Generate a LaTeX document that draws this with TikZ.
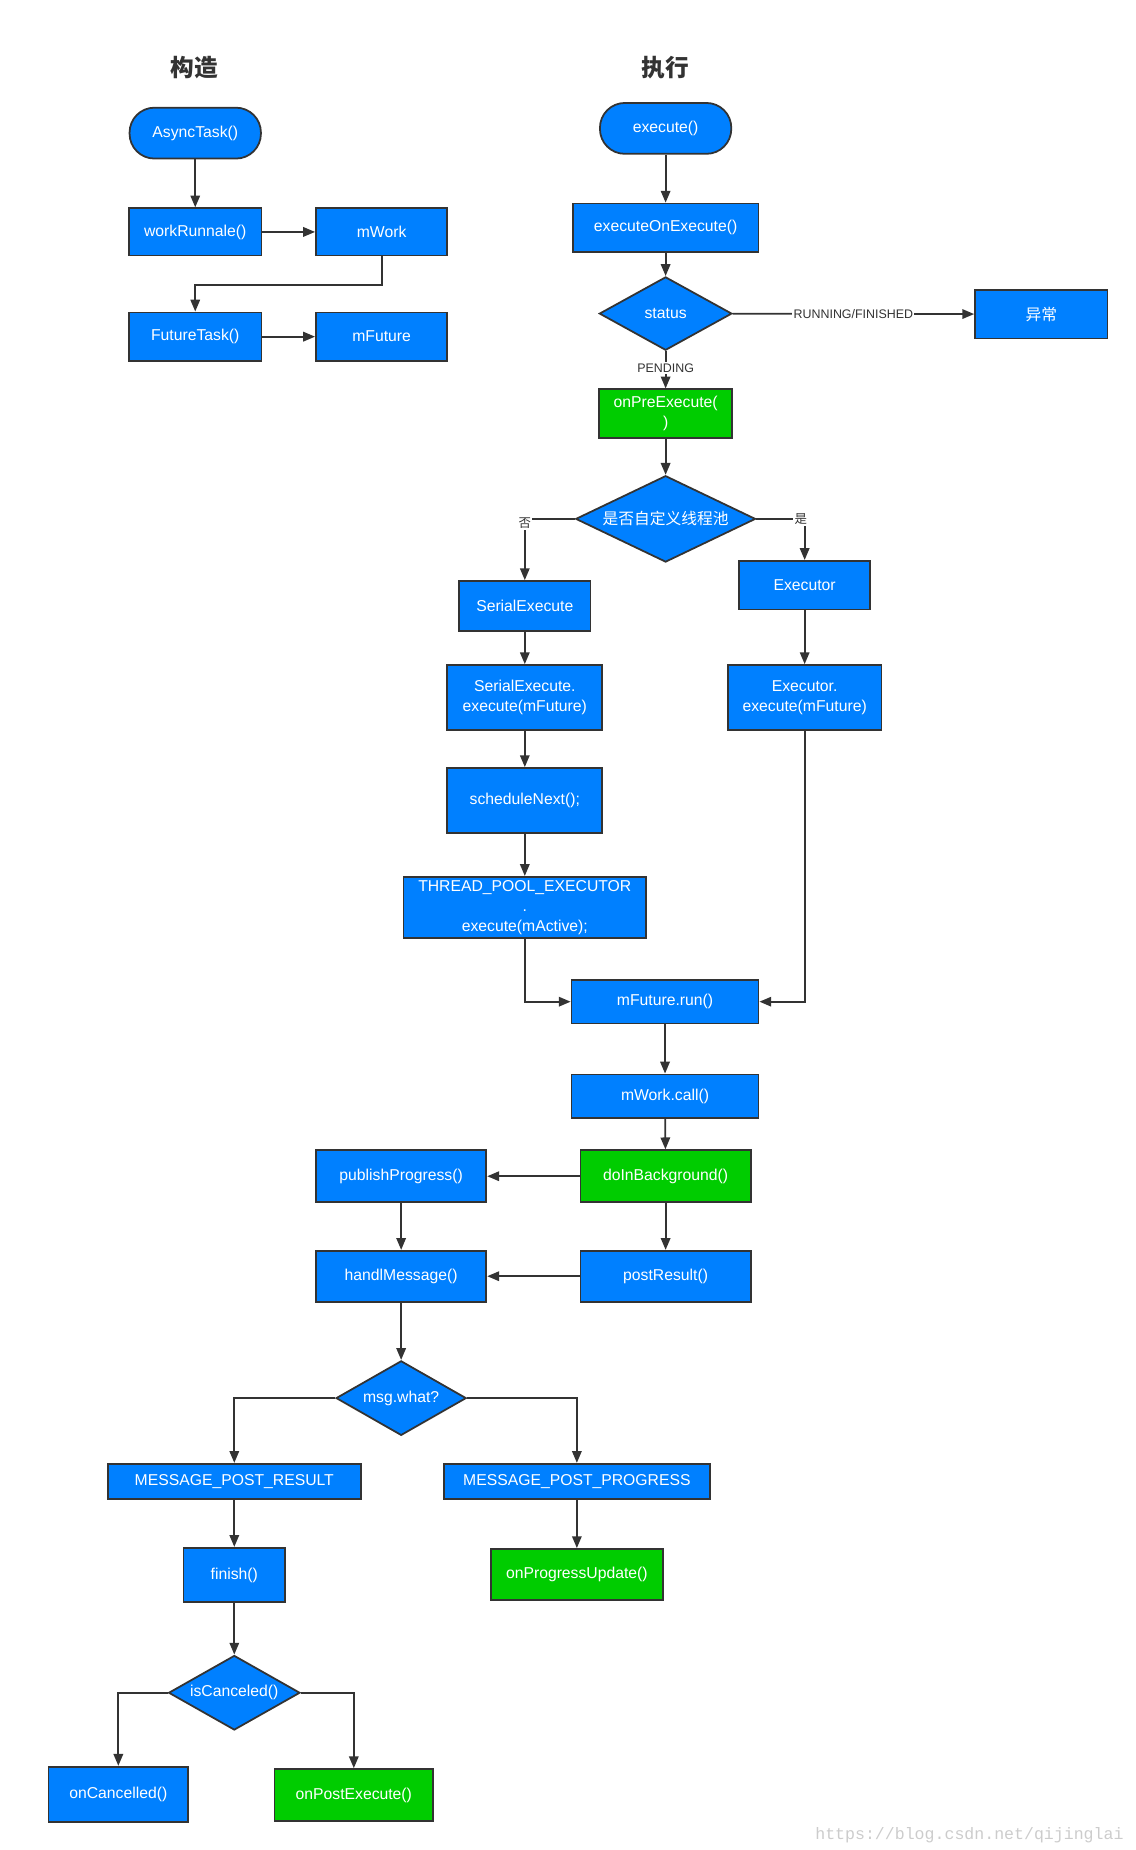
\documentclass[tikz,border=0pt]{standalone}
\usepackage{fontspec}
\setmainfont{Liberation Sans}
\newfontfamily\cjk{Noto Sans CJK SC}
\newfontfamily\wmfont{Liberation Mono}
\usetikzlibrary{shapes.geometric,arrows.meta}
\definecolor{fcblue}{HTML}{0080FF}
\definecolor{fcgreen}{HTML}{00CC00}
\definecolor{bd}{HTML}{333333}
\definecolor{ln}{HTML}{333333}
\tikzset{
  base/.style={draw=bd, line width=1.5pt, text=white, font=\fontsize{13.3}{17}\selectfont, inner sep=0pt, align=center},
  bbox/.style={base, rectangle, fill=fcblue},
  gbox/.style={base, rectangle, fill=fcgreen},
  term/.style={base, rectangle, rounded corners=21pt, fill=fcblue},
  dia/.style={base, diamond, fill=fcblue},
  arr/.style={draw=ln, line width=1.5pt, -{Triangle[length=10pt,width=8pt]}},
  lbl/.style={fill=white, text=ln, inner sep=1pt, font=\fontsize{10.5}{12}\selectfont},
  lblc/.style={fill=white, text=ln, inner sep=1pt, font=\cjk\fontsize{10.5}{12}\selectfont},
  ttl/.style={text=bd, font=\cjk\bfseries\fontsize{20}{24}\selectfont},
}
\begin{document}
\begin{tikzpicture}[x=1pt,y=-1pt]
\useasboundingbox (0,0) rectangle (960,1563.4);
% titles
\node[ttl] (t1) at (164,57) {构造};
\node[ttl] (t2) at (562,57) {执行};
% left column
\node[term, minimum width=111pt, minimum height=43pt] (async) at (165,112.5) {AsyncTask()};
\node[bbox, minimum width=112pt, minimum height=40pt] (work) at (165,196) {workRunnale()};
\node[bbox, minimum width=111pt, minimum height=40pt] (mwork) at (322.5,196) {mWork};
\node[bbox, minimum width=112pt, minimum height=41pt] (ftask) at (165,284.5) {FutureTask()};
\node[bbox, minimum width=111pt, minimum height=41pt] (mfuture) at (322.5,284.5) {mFuture};
\draw[arr] (async) -- (work);
\draw[arr] (work) -- (mwork);
\draw[arr] (mwork.south) -- ++(0,24) -| (ftask.north);
\draw[arr] (ftask) -- (mfuture);
% right column
\node[term, minimum width=111pt, minimum height=43pt] (exec) at (562.5,108.5) {execute()};
\node[bbox, minimum width=157pt, minimum height=41pt] (eoe) at (562.5,192.5) {executeOnExecute()};
\node[dia, minimum width=112pt, minimum height=62pt, aspect=1.8] (status) at (562.5,265) {status};
\node[bbox, minimum width=112pt, minimum height=41pt] (err) at (880,265.5) {\cjk 异常};
\node[gbox, minimum width=112pt, minimum height=41pt] (onpre) at (562.5,349.5) {onPreExecute(\\)};
\node[dia, minimum width=152pt, minimum height=73pt, aspect=2.08] (pool) at (562.5,438.5) {\cjk 是否自定义线程池};
\node[bbox, minimum width=111pt, minimum height=42pt] (serial) at (443.5,512) {SerialExecute};
\node[bbox, minimum width=131pt, minimum height=55pt] (sexec) at (443.5,589.5) {SerialExecute.\\execute(mFuture)};
\node[bbox, minimum width=131pt, minimum height=55pt] (sched) at (443.5,676.5) {scheduleNext();};
\node[bbox, minimum width=205pt, minimum height=52pt] (tpe) at (443.5,767) {THREAD\_POOL\_EXECUTOR\\.\\execute(mActive);};
\node[bbox, minimum width=111pt, minimum height=41pt] (executor) at (680,494.5) {Executor};
\node[bbox, minimum width=130pt, minimum height=55pt] (eexec) at (680,589.5) {Executor.\\execute(mFuture)};
\node[bbox, minimum width=158pt, minimum height=37pt] (run) at (562,846.5) {mFuture.run()};
\node[bbox, minimum width=158pt, minimum height=37pt] (call) at (562,926.5) {mWork.call()};
\node[gbox, minimum width=144pt, minimum height=44pt] (dib) at (562.5,994) {doInBackground()};
\node[bbox, minimum width=144pt, minimum height=44pt] (pub) at (339,994) {publishProgress()};
\node[bbox, minimum width=144pt, minimum height=43pt] (post) at (562.5,1078.5) {postResult()};
\node[bbox, minimum width=144pt, minimum height=43pt] (handl) at (339,1078.5) {handlMessage()};
\node[dia, minimum width=110pt, minimum height=63pt, aspect=1.75] (msg) at (339,1181.5) {msg.what?};
\node[bbox, minimum width=214pt, minimum height=30pt] (mpr) at (198,1252) {MESSAGE\_POST\_RESULT};
\node[bbox, minimum width=225pt, minimum height=30pt] (mpp) at (487.5,1252) {MESSAGE\_POST\_PROGRESS};
\node[bbox, minimum width=86pt, minimum height=46pt] (fin) at (198,1331) {finish()};
\node[gbox, minimum width=145pt, minimum height=43pt] (opu) at (487.5,1330.5) {onProgressUpdate()};
\node[dia, minimum width=111pt, minimum height=63pt, aspect=1.76] (iscan) at (198,1430.5) {isCanceled()};
\node[bbox, minimum width=118pt, minimum height=47pt] (onc) at (100,1516.5) {onCancelled()};
\node[gbox, minimum width=134pt, minimum height=44pt] (ope) at (299,1517) {onPostExecute()};
% connectors
\draw[arr] (exec) -- (eoe);
\draw[arr] (eoe) -- (status);
\draw[arr] (status) -- node[lbl] {RUNNING/FINISHED} (err);
\draw[arr] (status) -- node[lbl, pos=0.45] {PENDING} (onpre);
\draw[arr] (onpre) -- (pool);
\draw[arr] (pool.west) -| node[lblc, pos=0.535] {否} (serial.north);
\draw[arr] (pool.east) -| node[lblc, pos=0.46] {是} (executor.north);
\draw[arr] (serial) -- (sexec);
\draw[arr] (sexec) -- (sched);
\draw[arr] (sched) -- (tpe);
\draw[arr] (executor) -- (eexec);
\draw[arr] (tpe.south) |- (run.west);
\draw[arr] (eexec.south) |- (run.east);
\draw[arr] (run) -- (call);
\draw[arr] (call) -- (dib);
\draw[arr] (dib) -- (pub);
\draw[arr] (dib) -- (post);
\draw[arr] (pub) -- (handl);
\draw[arr] (post) -- (handl);
\draw[arr] (handl) -- (msg);
\draw[arr] (msg.west) -| (mpr.north);
\draw[arr] (msg.east) -| (mpp.north);
\draw[arr] (mpr) -- (fin);
\draw[arr] (mpp) -- (opu);
\draw[arr] (fin) -- (iscan);
\draw[arr] (iscan.west) -| (onc.north);
\draw[arr] (iscan.east) -| (ope.north);
% watermark
\node[anchor=east, text=black!20, font=\wmfont\fontsize{14}{16}\selectfont] (wm) at (953,1551) {https://blog.csdn.net/qijinglai};
\end{tikzpicture}
\end{document}
